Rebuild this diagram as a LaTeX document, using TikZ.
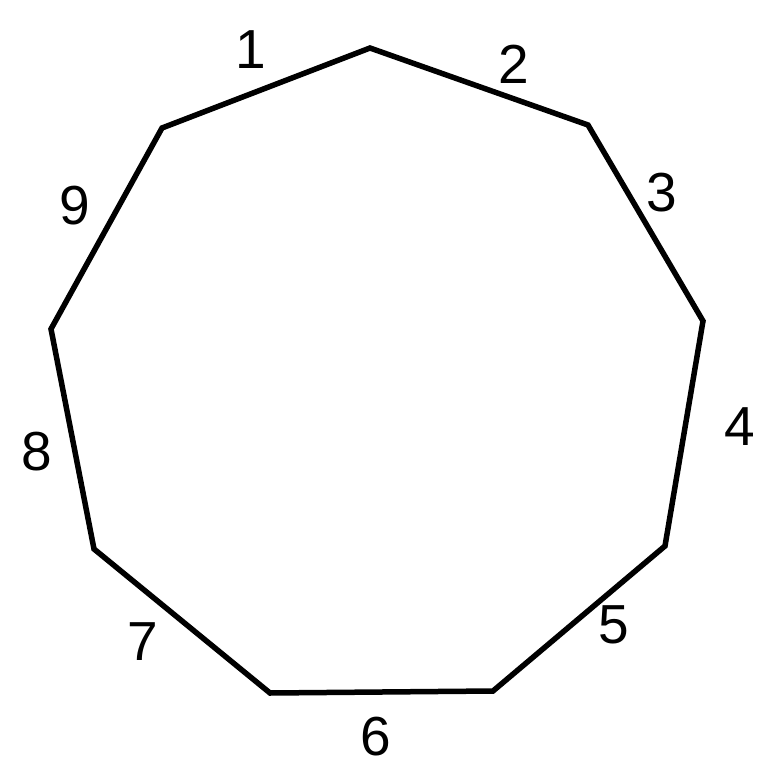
\documentclass[tikz,border=0pt]{standalone}
\usepackage{fontspec}
\setmainfont{Liberation Sans}

\begin{document}
\begin{tikzpicture}[x=1pt,y=-1pt,line width=5.5pt,line join=miter,
       side label/.style={inner sep=0pt,font=\fontsize{55}{55}\selectfont}]

      \useasboundingbox (0,0) rectangle (768,771);

      \coordinate (a) at (370,48);
      \coordinate (b) at (588,125);
      \coordinate (c) at (703,321);
      \coordinate (d) at (665,546);
      \coordinate (e) at (493,691);
      \coordinate (f) at (270,693);
      \coordinate (g) at (94,549);
      \coordinate (h) at (51,329);
      \coordinate (i) at (162,128);

      \draw (a) -- (b) -- (c) -- (d) -- (e) -- (f) -- (g) -- (h) -- (i) -- cycle;

      \node[side label] at (251,50) (1) {1};
      \node[side label] at (514,64) (2) {2};
      \node[side label] at (662,193) (3) {3};
      \node[side label] at (740,427) (4) {4};
      \node[side label] at (614,625) (5) {5};
      \node[side label] at (376,737) (6) {6};
      \node[side label] at (143,642) (7) {7};
      \node[side label] at (37,452) (8) {8};
      \node[side label] at (75,206) (9) {9};

    \end{tikzpicture}
\end{document}
